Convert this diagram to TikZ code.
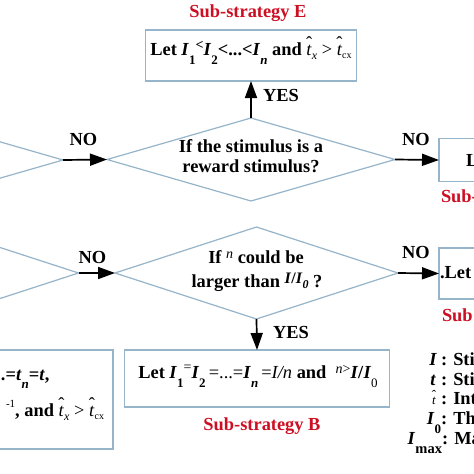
\documentclass[tikz,border=0pt]{standalone}
\usepackage{fontspec}
\setmainfont{Liberation Serif}
\usetikzlibrary{shapes.geometric,arrows.meta}
\definecolor{edgeblue}{RGB}{150,180,202}
\definecolor{subred}{RGB}{205,15,35}
\newcommand\bI{\textbf{\textit{I}}}
\newcommand\bt{\textbf{\textit{t}}}
\newcommand\sbs[1]{\raisebox{-9pt}{\fontsize{13}{13}\selectfont #1}}
\newcommand\hsbs[1]{\raisebox{-4.5pt}{\fontsize{12}{12}\selectfont #1}}
\newcommand\sps[2][5pt]{\raisebox{#1}{\fontsize{14}{14}\selectfont #2}}
\newcommand\that{{\ooalign{\textit{\mdseries t}\cr\hidewidth\raisebox{0.32em}{\mdseries ˆ}\hidewidth\cr}}}
\tikzset{
  every node/.style={font=\fontsize{18.4}{20}\selectfont\bfseries, inner sep=0pt, outer sep=0pt},
  dia/.style={draw=edgeblue, line width=1.2pt, diamond, minimum width=288pt, minimum height=83pt},
  dia2/.style={dia, minimum width=283pt, minimum height=92pt},
  box/.style={draw=edgeblue, line width=1.5pt, rectangle, fill=white},
  arr/.style={draw=black, line width=1.7pt, -{Triangle[length=17pt,width=12pt]}},
  redlab/.style={text=subred}
}
\begin{document}
\begin{tikzpicture}[x=1pt,y=-1pt]
\useasboundingbox (0,0) rectangle (474,474);
\fill[white] (0,0) rectangle (474,474);
\clip (0,0) rectangle (474,474);
% decisions
\node[dia] (d1) at (251,159.5) {};
\node[dia] (pd1) at (-81,160) {};
\node[dia2] (d2) at (256.5,273) {};
\node[dia2] (pd2) at (-63,273) {};
% boxes
\node[box, minimum width=211pt, minimum height=51pt] (bE) at (251,55.5) {};
\node[box, minimum width=265pt, minimum height=57pt] (bB) at (257,378.5) {};
\node[box, minimum width=233pt, minimum height=99pt] (bL) at (-3.5,399.5) {};
\node[box, minimum width=220pt, minimum height=43pt] (r1) at (549,160) {};
\node[box, minimum width=220pt, minimum height=51pt] (r2) at (549,273.5) {};
% connectors
\draw[arr] (d1.north) -- (bE.south);
\draw[arr] (pd1.east) -- (d1.west);
\draw[arr] (d1.east) -- (r1.west);
\draw[arr] (pd2.east) -- (d2.west);
\draw[arr] (d2.east) -- (r2.west);
\draw[arr] (d2.south) -- (bB.north);
% texts in boxes
\node[anchor=base] (tE) at (251,55) {Let \bI\sbs{1}\sps[5.5pt]{<}\bI\sbs{2}<...<\bI\sbs{\textit{n}} and \that\hsbs{\mdseries\textit{x}} {\mdseries >} \that\raisebox{-3.5pt}{\mdseries\fontsize{10}{10}\selectfont cx}};
\node[anchor=base] (tB) at (258,378) {Let \bI\sbs{1}\sps[7pt]{\mdseries =}\bI\sbs{2}\,{\mdseries =...=}\bI\sbs{\textit{n}}\,{\mdseries =\textit{I/n}} and \ \sps{\mdseries\textit{n}>}\bI/\bI\sbs{\mdseries 0}};
\node[anchor=base west] (tL1) at (1,380) {.=\bt\raisebox{-8pt}{\fontsize{13}{13}\selectfont\textit{n}}=\bt ,};
\node[anchor=base east] (tL2) at (104,416) {\raisebox{9pt}{\fontsize{11}{11}\selectfont\mdseries -1}, and \that\hsbs{\mdseries\textit{x}} {\mdseries >} \that\raisebox{-3.5pt}{\mdseries\fontsize{10}{10}\selectfont cx}};
\node[anchor=base west] (tR1) at (466,166) {L};
\node[anchor=base west] (tR2) at (440,278) {.Let};
% texts in decisions
\node[anchor=base] (q1a) at (251,152) {If the stimulus is a};
\node[anchor=base] (q1b) at (251,172) {reward stimulus?};
\node[anchor=base] (q2a) at (256,263) {If \sps{\mdseries\textit{n}} could be};
\node[anchor=base] (q2b) at (257,287) {larger than \raisebox{4pt}{\fontsize{16}{16}\selectfont\bI/\bI\raisebox{-5pt}{\fontsize{12}{12}\selectfont\textit{0}}} ?};
% branch labels
\node[anchor=base] (no1) at (83.5,145) {NO};
\node[anchor=base] (no2) at (416,145) {NO};
\node[anchor=base] (no3) at (92.5,263) {NO};
\node[anchor=base] (no4) at (416,258) {NO};
\node[anchor=base west] (y1) at (263,101) {YES};
\node[anchor=base west] (y2) at (273,338) {YES};
% red labels
\node[anchor=base, redlab] (sE) at (248,17) {Sub-strategy E};
\node[anchor=base, redlab] (sB) at (262,430) {Sub-strategy B};
\node[anchor=base west, redlab] (sR1) at (441,202) {Sub-};
\node[anchor=base west, redlab] (sR2) at (442,321) {Sub};
% legend
\node[anchor=base east] (k1) at (437,365) {\bI};
\node[anchor=base west] (v1) at (441,365) {: Sti};
\node[anchor=base east] (k2) at (436,385) {\bt};
\node[anchor=base west] (v2) at (441,385) {: Sti};
\node[anchor=base east] (k3) at (436,404) {\fontsize{13}{13}\selectfont\that};
\node[anchor=base west] (v3) at (441,404) {: Int};
\node[anchor=base east] (k4) at (441,424) {\bI\raisebox{-9pt}{\fontsize{13}{13}\selectfont 0}};
\node[anchor=base west] (v4) at (441,424) {: Th};
\node[anchor=base east] (k5) at (442,444) {\bI\raisebox{-9pt}{\fontsize{14.5}{14.5}\selectfont max}};
\node[anchor=base west] (v5) at (442,444) {: Ma};
\end{tikzpicture}
\end{document}
